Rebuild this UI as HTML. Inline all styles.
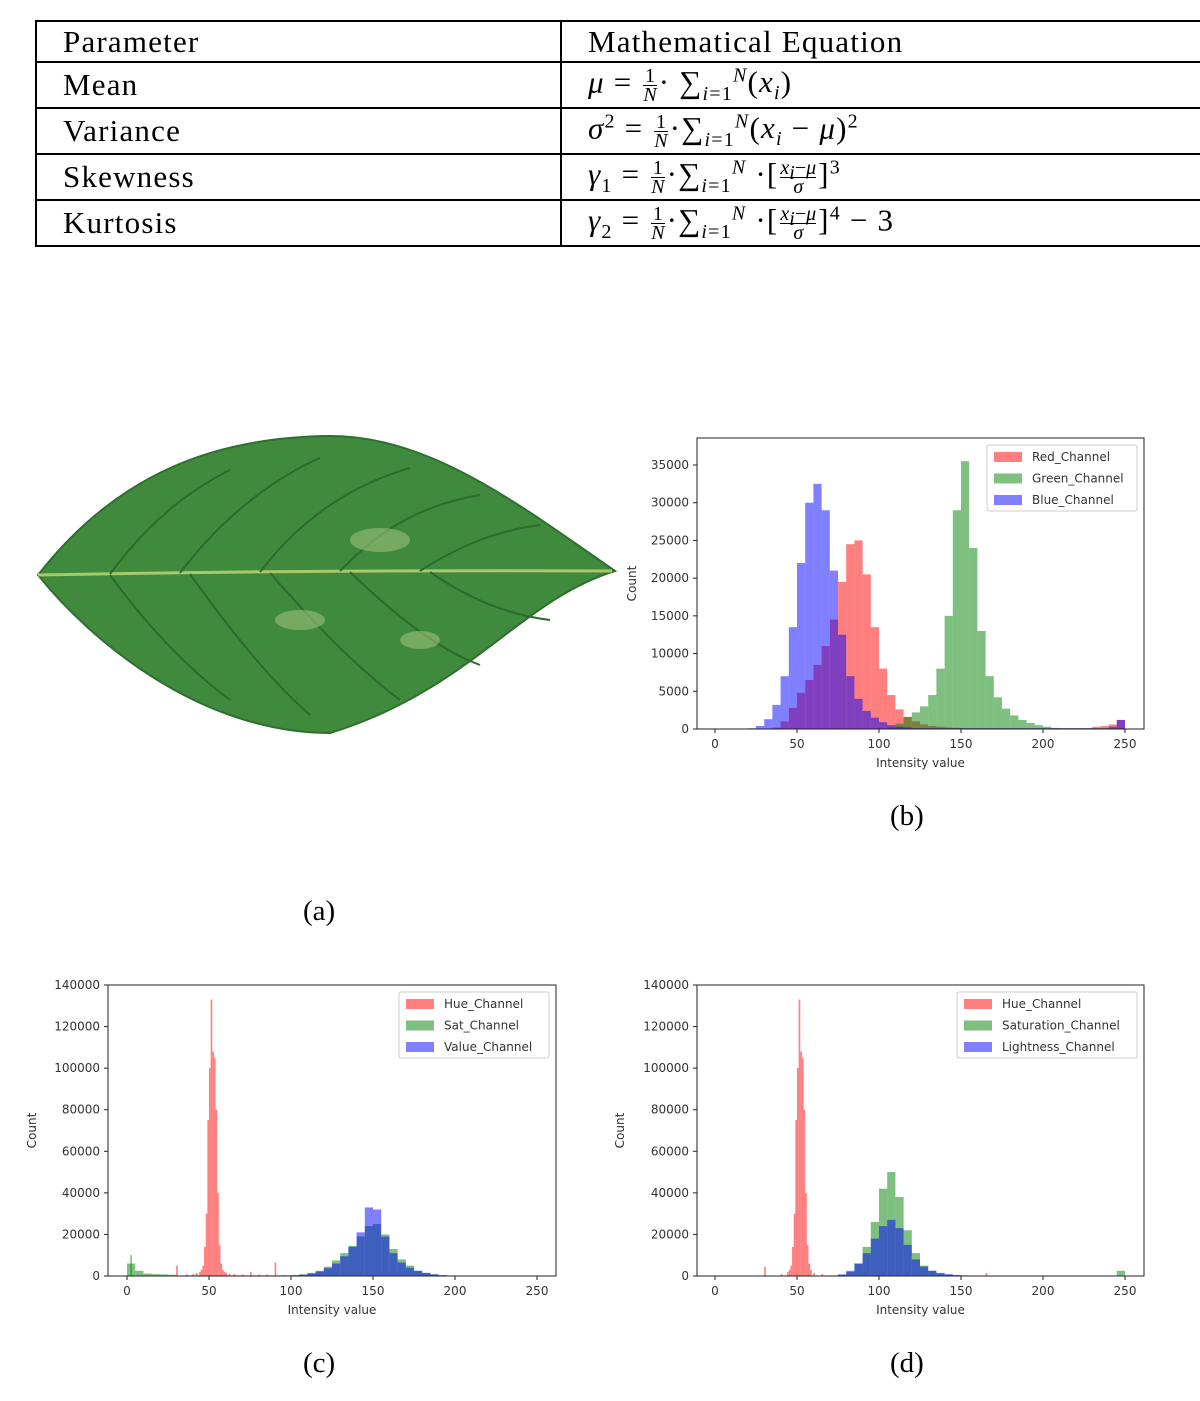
<!DOCTYPE html>
<html><head><meta charset="utf-8">
<style>
body{margin:0;background:#fff;width:1200px;height:1401px;position:relative;overflow:hidden;font-family:"Liberation Serif",serif;}
.tbl{position:absolute;left:35px;top:20px;width:1170px;border-collapse:collapse;}
.tbl td{border:2px solid #000;height:44px;padding:0 0 0 26px;font-size:31px;letter-spacing:1.2px;line-height:30px;vertical-align:middle;white-space:nowrap;overflow:hidden;}
.tbl tr:first-child td{height:39px;}
.tbl td.c1{width:497px;}
i{font-style:italic;}
.fr{display:inline-block;vertical-align:middle;text-align:center;font-size:20px;line-height:18px;margin:0 2px;letter-spacing:0;}
.fr span{display:block;}
.fr .n{border-bottom:1px solid #000;}
sub,sup{font-size:20px;line-height:0;}
.cap{position:absolute;font-size:29px;}
</style></head><body>
<table class="tbl">
<tr><td class="c1">Parameter</td><td>Mathematical Equation</td></tr>
<tr><td class="c1">Mean</td><td><i>μ</i> = <span class="fr"><span class="n">1</span><span><i>N</i></span></span>· ∑<sub><i>i</i>=1</sub><sup><i>N</i></sup>(<i>x<sub>i</sub></i>)</td></tr>
<tr><td class="c1">Variance</td><td><i>σ</i><sup>2</sup> = <span class="fr"><span class="n">1</span><span><i>N</i></span></span>·∑<sub><i>i</i>=1</sub><sup><i>N</i></sup>(<i>x<sub>i</sub></i> − <i>μ</i>)<sup>2</sup></td></tr>
<tr><td class="c1">Skewness</td><td><i>γ</i><sub>1</sub> = <span class="fr"><span class="n">1</span><span><i>N</i></span></span>·∑<sub><i>i</i>=1</sub><sup><i>N</i></sup> ·[<span class="fr"><span class="n"><i>x<sub>i</sub></i>−<i>μ</i></span><span><i>σ</i></span></span>]<sup>3</sup></td></tr>
<tr><td class="c1">Kurtosis</td><td><i>γ</i><sub>2</sub> = <span class="fr"><span class="n">1</span><span><i>N</i></span></span>·∑<sub><i>i</i>=1</sub><sup><i>N</i></sup> ·[<span class="fr"><span class="n"><i>x<sub>i</sub></i>−<i>μ</i></span><span><i>σ</i></span></span>]<sup>4</sup> − 3</td></tr>
</table>

<div class="cap" style="left:303px;top:895px">(a)</div>
<div class="cap" style="left:890px;top:800px">(b)</div>
<div class="cap" style="left:303px;top:1347px">(c)</div>
<div class="cap" style="left:890px;top:1347px">(d)</div>

<svg id="s" width="1200" height="1401" style="position:absolute;left:0;top:0" xmlns="http://www.w3.org/2000/svg">
<g>
<path d="M38,575 C120,470 220,437 330,436 C430,436 520,505 615,571 C520,600 470,690 330,733 C200,733 90,640 38,575 Z" fill="#3f8a3d" stroke="#2f6f30" stroke-width="2"/>
<path d="M38,575 C200,572 400,570 612,571" stroke="#a9c86a" stroke-width="3" fill="none"/>
<g stroke="#2d6a2e" stroke-width="2" fill="none">
<path d="M110,574 C150,520 190,490 230,470"/><path d="M180,573 C220,520 270,480 320,458"/><path d="M260,572 C300,520 350,485 410,468"/><path d="M340,571 C380,530 420,505 480,495"/><path d="M420,571 C460,545 500,530 540,525"/>
<path d="M110,575 C150,630 190,670 230,700"/><path d="M190,574 C230,630 270,680 310,715"/><path d="M270,573 C320,630 360,670 400,700"/><path d="M350,572 C400,620 440,650 480,665"/><path d="M430,572 C470,600 510,615 550,620"/>
</g>
<g fill="#9cc07a" opacity="0.6"><ellipse cx="380" cy="540" rx="30" ry="12"/><ellipse cx="300" cy="620" rx="25" ry="10"/><ellipse cx="420" cy="640" rx="20" ry="9"/></g>
</g>
</svg>

<script>
// ---- chart (b) data: 5-unit bins starting at 0 ----
const bBins = [0,5,10,15,20,25,30,35,40,45,50,55,60,65,70,75,80,85,90,95,100,105,110,115,120,125,130,135,140,145,150,155,160,165,170,175,180,185,190,195,200,205,210,215,220,225,230,235,240,245];
const bRed = [0,0,0,0,0,0,0,200,1000,2800,4800,6500,8500,11000,14500,19500,24500,25000,20500,13500,8000,4500,2600,1600,1000,600,400,300,200,150,100,100,100,100,100,100,100,100,100,100,100,100,100,100,100,100,300,400,600,1200];
const bGreen = [0,0,0,0,0,0,0,0,0,0,0,0,0,0,0,0,0,0,0,0,0,200,700,1600,2200,3000,4500,8000,15000,29000,35500,24000,13000,7000,4200,2700,1800,1200,800,500,300,150,100,100,100,100,100,100,100,100];
const bBlue = [0,0,0,0,100,400,1300,3200,7000,13500,22000,30000,32500,29000,21000,12500,7000,4000,2400,1500,900,500,300,200,100,100,100,100,100,100,100,100,100,100,100,100,100,100,100,100,100,100,100,100,100,100,100,100,300,1200];
const bYTicks = [0,5000,10000,15000,20000,25000,30000,35000];
const xTicks = [0,50,100,150,200,250];
const bLegend = ["Red_Channel","Green_Channel","Blue_Channel"];
// ---- chart (c) data ----
const cHueBins = [30,36,40,42,44,45,46,47,48,49,50,51,52,53,54,55,56,57,58,59,60,62,65,70,75,80,85,90,95];
const cHue = [5000,800,1000,1500,2000,3000,5000,14000,30000,75000,100000,133000,108000,105000,80000,40000,15000,6000,3000,2000,1500,1000,1000,800,2000,800,800,6500,500];
const cSat = [6000,2500,1200,900,800,600,300,300,300,300,300,300,300,300,300,300,300,300,300,300,500,800,1500,2500,4500,7500,11000,14500,19000,24000,25000,20000,13000,8000,5000,2500,1500,800,400,200,0,0,0,0,0,0,0,0,0,0];
const cVal = [0,0,0,0,0,0,0,0,0,0,0,0,0,0,0,0,0,0,0,0,300,600,1200,2200,3800,6000,9500,14000,21000,33000,32000,19000,11000,6500,4000,2500,1500,800,400,200,0,0,0,0,0,0,0,0,0,0];
const cSatSpikeBins = [2];
const cSatSpike = [10000];
const cLegend = ["Hue_Channel","Sat_Channel","Value_Channel"];
const hsYTicks = [0,20000,40000,60000,80000,100000,120000,140000];
// ---- chart (d) data ----
const dHueBins = [30,40,44,45,46,47,48,49,50,51,52,53,54,55,56,57,58,60,65,165];
const dHue = [4500,1000,2000,3000,5000,14000,30000,75000,100000,133000,108000,105000,80000,40000,15000,6000,3000,1500,1000,1500];
const dSat = [0,0,0,0,0,0,0,0,0,0,0,0,0,0,0,500,2000,6000,14000,26000,42000,50000,38000,22000,11000,5000,2500,1200,600,300,200,0,0,0,0,0,0,0,0,0,0,0,0,0,0,0,0,0,0,2500];
const dLight = [0,0,0,0,0,0,0,0,0,0,0,0,0,0,300,800,2500,6000,11000,18000,24000,27000,23000,15000,8000,4500,2500,1500,900,500,300,200,100,0,0,0,0,0,0,0,0,0,0,0,0,0,0,0,0,0];
const dLegend = ["Hue_Channel","Saturation_Channel","Lightness_Channel"];

const NS="http://www.w3.org/2000/svg";
const svg=document.getElementById('s');
const RED="rgba(255,0,0,0.5)",GREEN="rgba(0,128,0,0.5)",BLUE="rgba(0,0,255,0.5)";
function mk(tag,attrs,parent){const e=document.createElementNS(NS,tag);for(const k in attrs)e.setAttribute(k,attrs[k]);(parent||svg).appendChild(e);return e;}

function chart(cfg){
  const g=mk('g',{});
  
  
  const xS=v=>cfg.x0+v*(cfg.x250-cfg.x0)/250;
  const yS=c=>cfg.yb-c*(cfg.yb-cfg.ymaxPx)/cfg.ymax;
  cfg.series.forEach(s=>{
    s.bins.forEach((b,i)=>{
      const c=s.counts[i]; if(!c) return;
      const r=mk('rect',{x:xS(b),y:yS(c),width:Math.max(xS(b+s.w)-xS(b),0.8),height:cfg.yb-yS(c),fill:s.color},g);
      
      
    });
  });
  const f=mk('rect',{x:cfg.L,y:cfg.T,width:cfg.R-cfg.L,height:cfg.yb-cfg.T,fill:'none',stroke:'#222','stroke-width':1},g);
  
  
  const ts="font-family:'DejaVu Sans','Liberation Sans',sans-serif;font-size:12px;fill:#333";
  xTicks.forEach(v=>{
    mk('line',{x1:xS(v),x2:xS(v),y1:cfg.yb,y2:cfg.yb+4,stroke:'#222'},g);
    const t=mk('text',{x:xS(v),y:cfg.yb+19,'text-anchor':'middle',style:ts},g);t.textContent=v;
    
    
  });
  cfg.yTicks.forEach(v=>{
    mk('line',{x1:cfg.L-4,x2:cfg.L,y1:yS(v),y2:yS(v),stroke:'#222'},g);
    const t=mk('text',{x:cfg.L-8,y:yS(v)+4,'text-anchor':'end',style:ts},g);t.textContent=v;
    
    
  });
  const xl=mk('text',{x:(cfg.L+cfg.R)/2,y:cfg.yb+38,'text-anchor':'middle',style:ts},g);xl.textContent='Intensity value';
  
  
  const yl=mk('text',{x:0,y:0,'text-anchor':'middle',style:ts,transform:`translate(${cfg.ylx},${(cfg.T+cfg.yb)/2}) rotate(-90)`},g);yl.textContent='Count';
  
  
  const lw=cfg.legW;
  const lb=mk('rect',{x:cfg.R-lw-7,y:cfg.T+7,width:lw,height:66,fill:'#fff',stroke:'#ccc',rx:2},g);
  
  
  cfg.labels.forEach((l,i)=>{
    const y=cfg.T+17+i*21.5;
    mk('rect',{x:cfg.R-lw,y:y-3,width:28,height:10,fill:[RED,GREEN,BLUE][i]},g);
    const t=mk('text',{x:cfg.R-lw+38,y:y+6,style:ts},g);t.textContent=l;
    
    
  });
}
const b5=bBins;
chart({name:'rgb-histogram-b',x0:715,x250:1125,L:697,R:1144,T:438,yb:729,ymax:35000,ymaxPx:465,yTicks:bYTicks,ylx:636,legW:150,labels:bLegend,
  series:[{key:'red',bins:b5,counts:bRed,w:5,color:RED},{key:'green',bins:b5,counts:bGreen,w:5,color:GREEN},{key:'blue',bins:b5,counts:bBlue,w:5,color:BLUE}]});
chart({name:'hsv-histogram-c',x0:127,x250:537,L:108,R:556,T:985,yb:1276,ymax:140000,ymaxPx:985,yTicks:hsYTicks,ylx:36,legW:150,labels:cLegend,
  series:[{key:'hue',bins:cHueBins,counts:cHue,w:1,color:RED},{key:'sat',bins:b5,counts:cSat,w:5,color:GREEN},{key:'sat-spike',bins:cSatSpikeBins,counts:cSatSpike,w:1,color:GREEN},{key:'value',bins:b5,counts:cVal,w:5,color:BLUE}]});
chart({name:'hsl-histogram-d',x0:715,x250:1125,L:697,R:1144,T:985,yb:1276,ymax:140000,ymaxPx:985,yTicks:hsYTicks,ylx:624,legW:180,labels:dLegend,
  series:[{key:'hue',bins:dHueBins,counts:dHue,w:1,color:RED},{key:'saturation',bins:b5,counts:dSat,w:5,color:GREEN},{key:'lightness',bins:b5,counts:dLight,w:5,color:BLUE}]});
</script>
</body></html>
